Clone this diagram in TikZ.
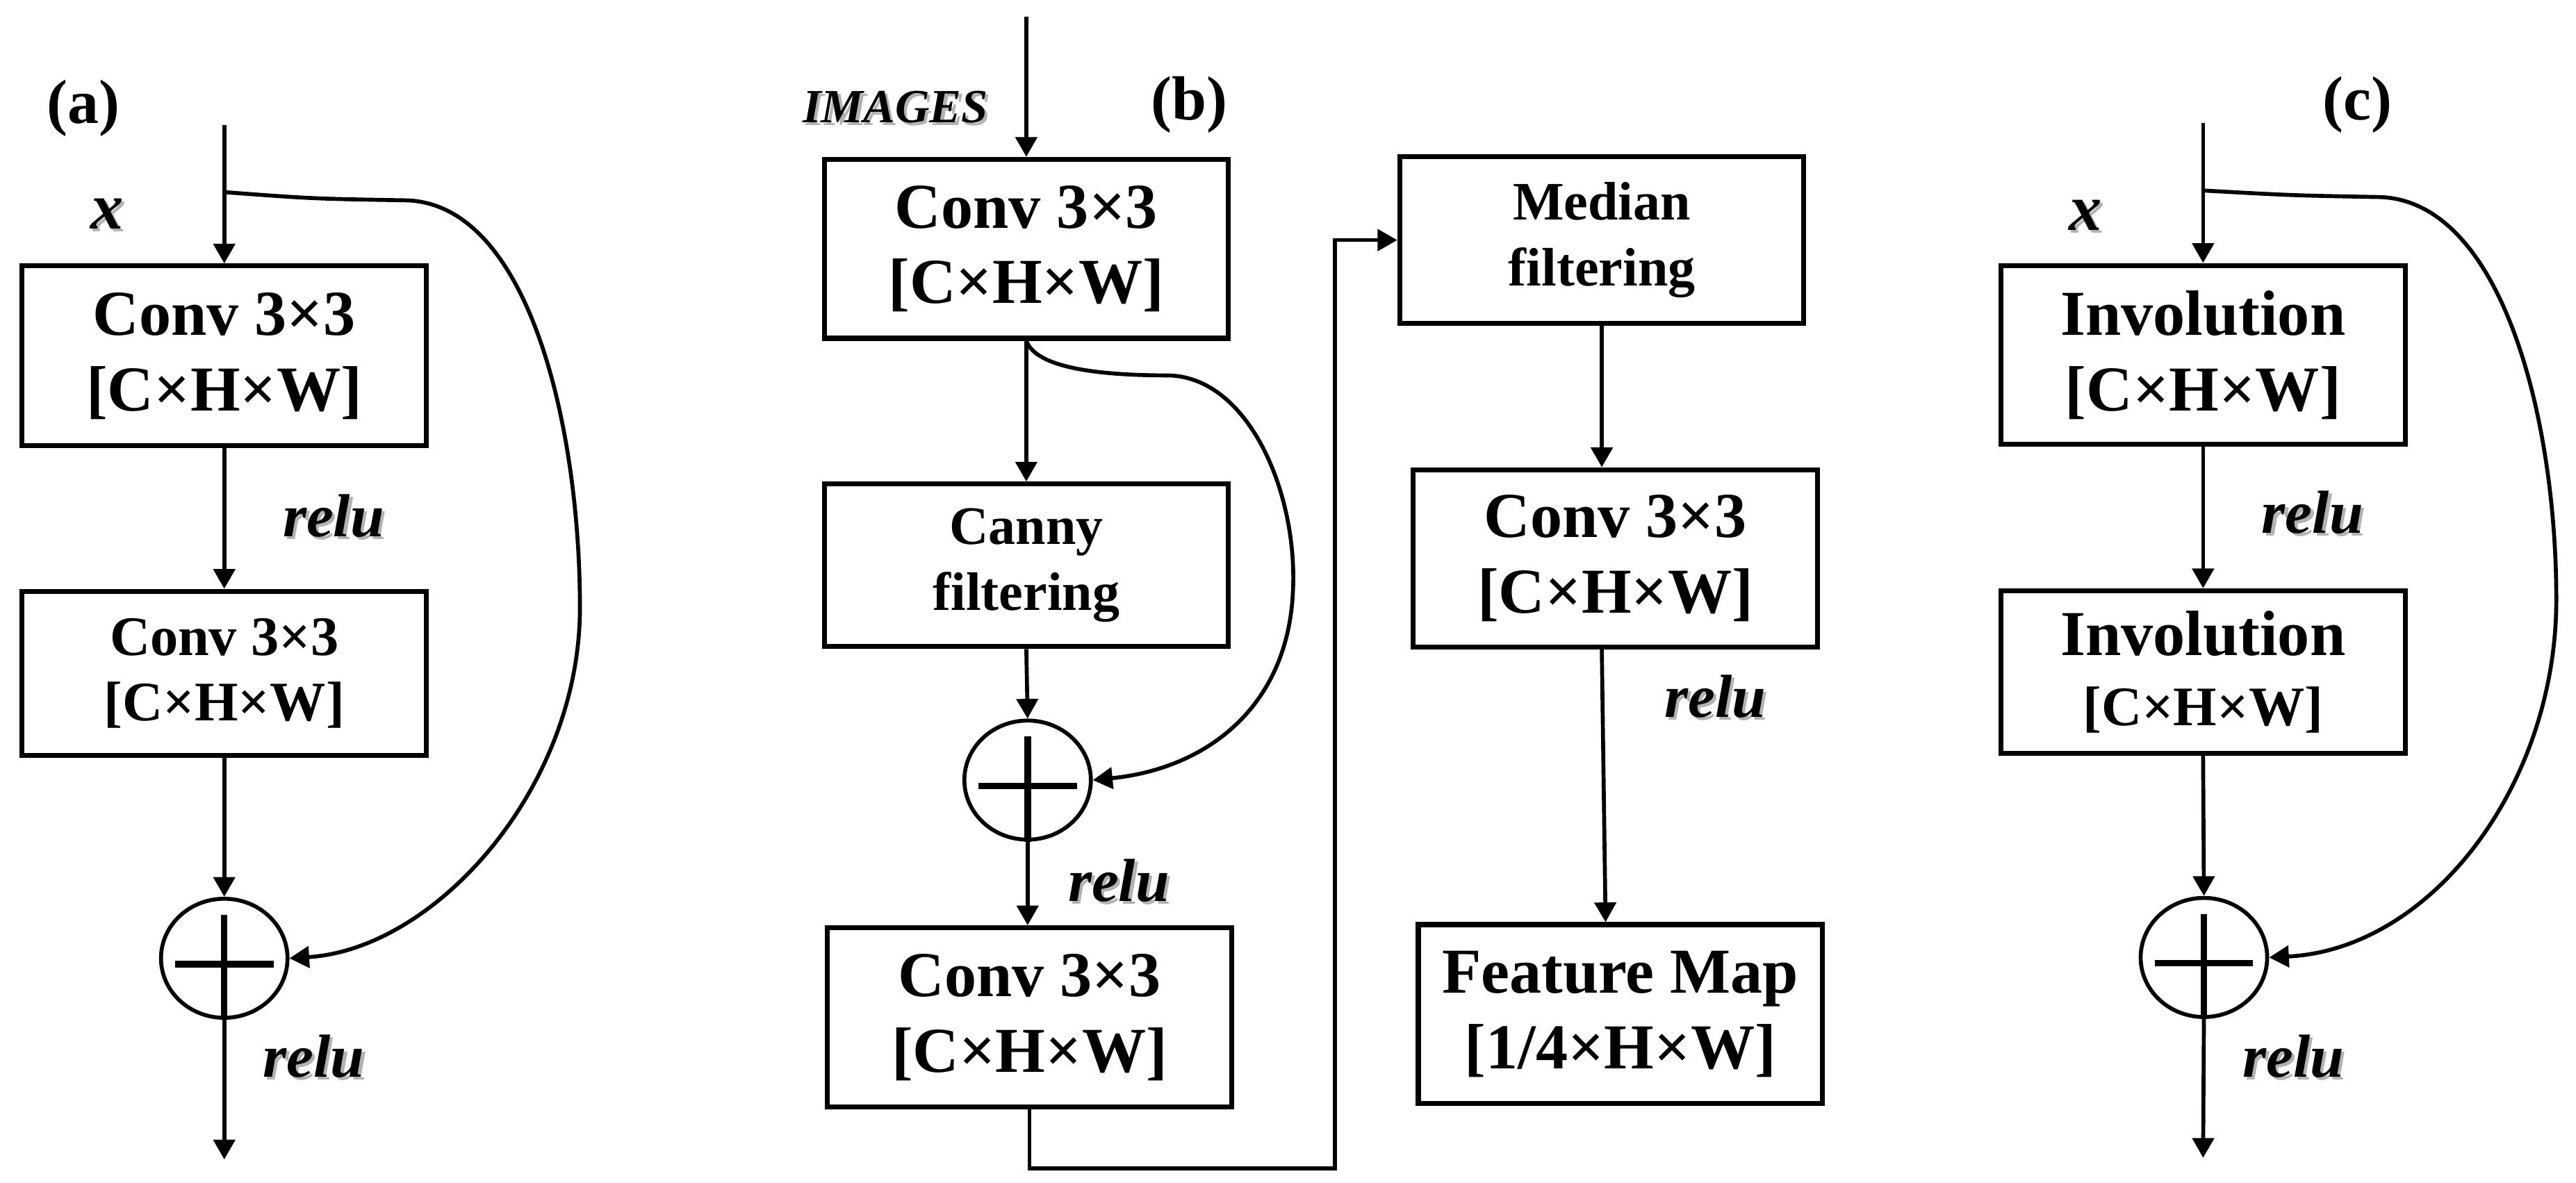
\documentclass[tikz,border=0pt]{standalone}
\usepackage{fontspec}
\setmainfont{Liberation Serif}
\usetikzlibrary{arrows.meta,shapes.geometric,calc}
\newcommand\fntBig{\bfseries\fontsize{39}{46}\selectfont}
\newcommand\fntSmall{\bfseries\fontsize{34}{40}\selectfont}
\newcommand\fntMid{\bfseries\fontsize{33}{40}\selectfont}
\newcommand\fntRelu{\bfseries\itshape\fontsize{37}{44}\selectfont}
\newcommand\fntX{\bfseries\itshape\fontsize{40}{44}\selectfont}
\newcommand\fntImg{\bfseries\itshape\fontsize{29}{34}\selectfont}
\newcommand\fntLab{\bfseries\fontsize{38}{44}\selectfont}
\newcommand\shd[1]{\makebox[0pt][l]{\kern1.8pt\raisebox{-1.8pt}{\textcolor{black!30}{#1}}}#1}
\begin{document}
\begin{tikzpicture}[x=1pt,y=-1pt,
  blk/.style={draw, line width=3pt, inner sep=0pt, align=center, minimum width=246pt},
  arr/.style={line width=2.4pt, -{Triangle[length=12pt,width=13pt]}},
  sum/.style={draw, ellipse, line width=2.4pt, minimum width=77pt, minimum height=72.5pt, inner sep=0pt},
  bar/.style={line width=4pt},
  relu/.style={font=\fntRelu, inner sep=0pt},
  xlab/.style={font=\fntX, inner sep=0pt},
  lab/.style={font=\fntLab, inner sep=0pt}]
\useasboundingbox[fill=white] (0,0) rectangle (1568,720);

% ---------------- panel (a)
\node[lab] (la) at (50.7,66) {(a)};
\coordinate (inA) at (136.5,76);
\coordinate (brA) at (136.5,117);
\node[xlab] (xa) at (65,131) {\shd{x}};
\node[blk, minimum height=109.5pt, font=\fntBig] (a1) at (136.5,216.7) {Conv 3×3\\{[C×H×W]}};
\node[relu] (ra1) at (203,315) {\shd{relu}};
\node[blk, minimum height=100pt, font=\fntSmall] (a2) at (136.5,410) {Conv 3×3\\{[C×H×W]}};
\node[sum] (sa) at (136.5,583.5) {};
\node[relu] (ra2) at (191,644) {\shd{relu}};
\coordinate (outA) at (136.5,706);

\draw[arr] (inA) -- (a1.north);
\draw[arr] (a1.south) -- (a2.north);
\draw[arr] (a2.south) -- (sa.north);
\draw[arr] (sa.south) -- (outA);
\draw[arr] (brA) .. controls (190,121) .. (248,122) .. controls (322,125) and (353,260) .. (353,370) .. controls (353,480) and (265,578) .. (sa.east);
\draw[bar] ($(sa.center)+(-30,3.5)$) -- ++(60,0);
\draw[bar] ($(sa.center)+(0,-26.5)$) -- (sa.south);

% ---------------- panel (b)
\coordinate (inB) at (624.7,10);
\node[font=\fntImg, inner sep=0pt] (img) at (545,66) {\shd{IMAGES}};
\node[lab] (lb) at (724,64) {(b)};
\node[blk, minimum height=109pt, font=\fntBig] (b1) at (624.7,151.5) {Conv 3×3\\{[C×H×W]}};
\node[blk, minimum height=99pt, font=\fntMid] (b2) at (624.7,344.2) {Canny\\filtering};
\node[sum] (sb) at (625.5,475) {};
\node[relu] (rb) at (681,537) {\shd{relu}};
\node[blk, minimum height=109pt, font=\fntBig] (b3) at (626.7,619.4) {Conv 3×3\\{[C×H×W]}};
\coordinate (br) at (812.4,711.4);

\node[blk, minimum height=101.5pt, font=\fntMid] (m1) at (975,146.2) {Median\\filtering};
\node[blk, minimum height=108pt, font=\fntBig] (m2) at (983.3,340) {Conv 3×3\\{[C×H×W]}};
\node[relu] (rm) at (1044,425) {\shd{relu}};
\node[blk, minimum height=109pt, font=\fntBig] (m3) at (986.3,617.5) {Feature Map\\{[1/4×H×W]}};

\draw[arr] (inB) -- (b1.north);
\draw[arr] (b1.south) -- (b2.north);
\draw[arr] (b2.south) -- (sb.north);
\draw[arr] (sb.south) -- (sb.south |- b3.north);
\draw[arr] (b1.south) .. controls (630,222) and (660,228.6) .. (711.6,228.6) .. controls (760,230) and (790,300) .. (787,360) .. controls (784,430) and (735,468) .. (sb.east);
\draw[bar] ($(sb.center)+(-30,3.5)$) -- ++(60,0);
\draw[bar] ($(sb.center)+(0,-26.5)$) -- (sb.south);
\draw[arr] (b3.south) |- (br) -- (br |- m1.west) -- (m1.west);
\draw[arr] (m1.south) -- (m1.south |- m2.north);
\draw[arr] (m1.south |- m2.south) -- ($(m3.north)+(-9,0)$);

% ---------------- panel (c)
\node[lab] (lc) at (1435,64) {(c)};
\coordinate (inC) at (1341,74.7);
\coordinate (brC) at (1341,116);
\node[xlab] (xc) at (1269.5,132) {\shd{x}};
\node[blk, minimum height=109pt, font=\fntBig] (c1) at (1341,216.1) {Involution\\{[C×H×W]}};
\node[relu] (rc1) at (1407.6,313) {\shd{relu}};
\node[blk, minimum height=99pt, font=\fntBig] (c2) at (1341,409.2) {Involution\\[-3pt]{\fntSmall [C×H×W]}};
\node[sum] (sc) at (1341.5,583) {};
\node[relu] (rc2) at (1396,644) {\shd{relu}};
\coordinate (outC) at (1341,705);

\draw[arr] (inC) -- (c1.north);
\draw[arr] (c1.south) -- (c2.north);
\draw[arr] (c2.south) -- (sc.north);
\draw[arr] (sc.south) -- (outC);
\draw[arr] (brC) .. controls (1395,119) .. (1449,120) .. controls (1523,123) and (1556,255) .. (1556,365) .. controls (1556,478) and (1480,578) .. (sc.east);
\draw[bar] ($(sc.center)+(-30,3.5)$) -- ++(60,0);
\draw[bar] ($(sc.center)+(0,-26.5)$) -- (sc.south);
\end{tikzpicture}
\end{document}
